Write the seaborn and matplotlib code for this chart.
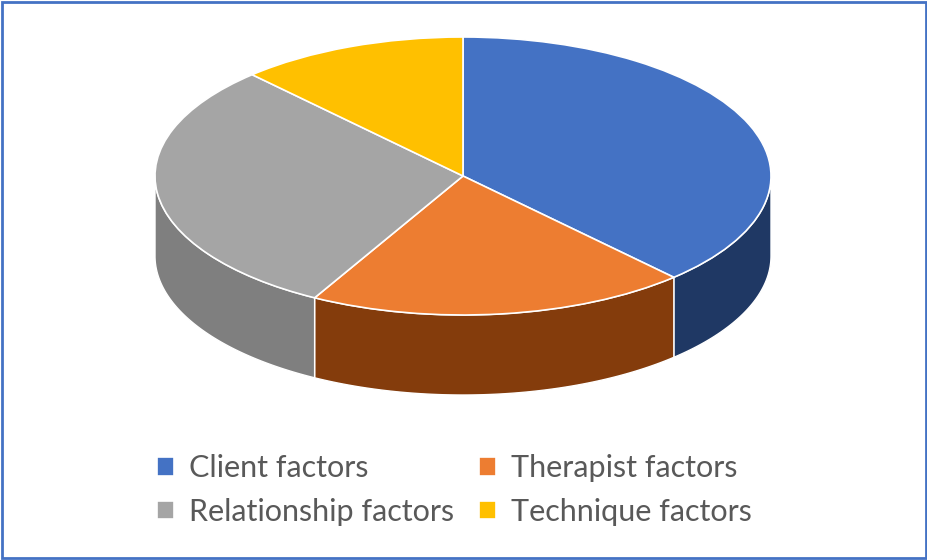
import numpy as np
import matplotlib
matplotlib.use("Agg")
import matplotlib.pyplot as plt
import seaborn as sns
from matplotlib.transforms import Affine2D
from matplotlib.patches import Polygon, Rectangle

sns.set_style("white")
plt.rcParams['font.family'] = ['Century Gothic', 'Lato', 'DejaVu Sans']

# data
labels = ["Client factors", "Therapist factors", "Relationship factors", "Technique factors"]
values = [38, 20, 30, 12]
top_colors = ["#4472C4", "#ED7D31", "#A5A5A5", "#FFC000"]
side_colors = ["#1F3864", "#843C0C", "#7F7F7F", "#BF9000"]

fig = plt.figure(figsize=(9.28, 5.6), dpi=100)
ax = fig.add_axes([0, 0, 1, 1])
ax.axis("off")

cx, cy, rx, ry, depth = 463, 384, 308, 139, 80

# side walls (front half only)
frac = np.cumsum([0] + values) / sum(values)
for i in range(len(values)):
    a0 = 90 - frac[i] * 360
    a1 = 90 - frac[i + 1] * 360
    t = np.radians(np.linspace(a1, a0, 200))
    t = t[np.sin(t) <= 0.0]
    if len(t) < 2:
        continue
    xs = cx + rx * np.cos(t)
    ys = cy + ry * np.sin(t)
    pts = np.column_stack([np.r_[xs, xs[::-1]], np.r_[ys, ys[::-1] - depth]])
    ax.add_patch(Polygon(pts, closed=True, facecolor=side_colors[i],
                         edgecolor="white", lw=1, zorder=1))

# top face
wedges, _ = ax.pie(values, startangle=90, counterclock=False, colors=top_colors,
                   wedgeprops=dict(edgecolor="white", linewidth=1.2))
tr = Affine2D().scale(rx, ry).translate(cx, cy) + ax.transData
for w in wedges:
    w.set_transform(tr)
    w.set_zorder(2)
ax.set_xlim(0, 928)
ax.set_ylim(0, 560)
ax.set_aspect("auto")

# legend in row-major order
order = [0, 2, 1, 3]
fig.legend([wedges[i] for i in order], [labels[i] for i in order], loc="center",
           bbox_to_anchor=(0.49, 0.125), ncol=2, frameon=False, fontsize=22,
           labelcolor="#595959", handlelength=0.55, handleheight=0.55,
           handletextpad=0.5, columnspacing=0.8, labelspacing=0.5)

fig.add_artist(Rectangle((0.002, 0.003), 0.996, 0.994, transform=fig.transFigure,
                         fill=False, edgecolor="#4472C4", lw=2))

fig.savefig("out.png", dpi=100)
